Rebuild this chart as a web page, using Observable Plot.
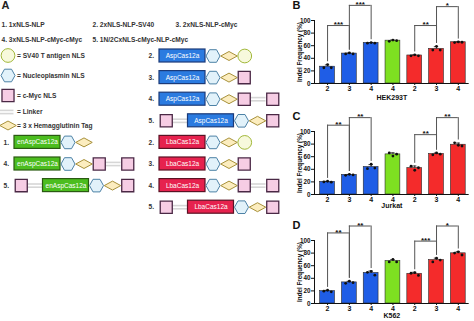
<!DOCTYPE html>
<html><head><meta charset="utf-8">
<script src="https://cdn.jsdelivr.net/npm/d3@7"></script>
<script src="https://cdn.jsdelivr.net/npm/@observablehq/plot@0.6"></script>
<style>
html,body{margin:0;padding:0;background:#fff;}
#fig{position:relative;width:474px;height:321px;overflow:hidden;font-family:"Liberation Sans",Arial,sans-serif;}
#fig > div{position:absolute;}
#pa{left:0;top:0;} #pb{left:285px;top:-4px;} #pc{left:285px;top:107px;} #pd{left:285px;top:216px;}
</style></head><body>
<div id="fig"><div id="pa"></div><div id="pb"></div><div id="pc"></div><div id="pd"></div></div>
<script>
// ---------- Panel A data ----------
const constructNames = ["1. 1xNLS-NLP", "2. 2xNLS-NLP-SV40", "3. 2xNLS-NLP-cMyc", "4. 3xNLS-NLP-cMyc-cMyc", "5. 1N/2CxNLS-cMyc-NLP-cMyc"];
const legendParts = ["sv40", "nlp", "cmyc", "linker", "ha"];
const legendLabels = ["= SV40 T antigen NLS", "= Nucleoplasmin NLS", "= c-Myc NLS", "= Linker", "= 3 x Hemagglutinin Tag"];
const design1 = ["cas", "nlp", "ha"];
const design2 = ["cas", "nlp", "ha", "sv40"];
const design3 = ["cas", "nlp", "ha", "cmyc"];
const design4 = ["cas", "nlp", "ha", "cmyc", "linker", "cmyc"];
const design5 = ["cmyc", "linker", "cas", "nlp", "ha", "cmyc"];
const enzymes = ["AspCas12a", "enAspCas12a", "LbaCas12a"];
const enAspConstructs = ["1", "4", "5"];
const aspConstructs = ["2", "3", "4", "5"];
const lbaConstructs = ["2", "3", "4", "5"];

// ---------- Panels B-D data ----------
const groupTicks = ["2", "3", "4", "4", "2", "3", "4"];
const barEnzymes = ["AspCas12a", "AspCas12a", "AspCas12a", "enAspCas12a", "LbaCas12a", "LbaCas12a", "LbaCas12a"];
const cellLines = ["HEK293T", "Jurkat", "K562"];
const panelLetters = ["B", "C", "D"];
const yTitle = "Indel Frequency (%)";
const yTicks = [0, 20, 40, 60, 80, 100];
const hekReps = [[25, 30, 25], [47, 48.5, 47], [64, 65, 64], [67, 69, 68], [44, 45.5, 44], [53, 59, 53], [65, 66, 65.5]];
const jurkatReps = [[20, 21, 19.5], [30.5, 32, 31], [41, 48, 42], [66, 61, 64], [45, 38.5, 42.5], [63, 66, 64], [82, 78, 77]];
const k562Reps = [[19.5, 21, 18.5], [32, 35.5, 33], [49.5, 51, 45], [66, 70, 66], [48, 49, 44.5], [66, 72, 69], [80, 82, 77]];
const hekSig = [[0, 1, 92, "***"], [1, 2, 124, "***"], [4, 5, 92, "**"], [5, 6, 122, "*"]];
const jurkatSig = [[0, 1, 110, "**"], [1, 2, 122, "**"], [4, 5, 95, "**"], [5, 6, 122, "**"]];
const k562Sig = [[0, 1, 112, "**"], [1, 2, 123, "**"], [4, 5, 99, "***"], [5, 6, 123, "*"]];

// ---------- styles / layout ----------
const designs = {"1": design1, "2": design2, "3": design3, "4": design4, "5": design5};
const partWidth = {cas: 46, nlp: 15, ha: 17, sv40: 14.5, cmyc: 13.5, linker: 15};
const boxFill = {AspCas12a: "#2b7be0", enAspCas12a: "#4cbd1f", LbaCas12a: "#e6224e"};
const boxStroke = {AspCas12a: "#1b3a78", enAspCas12a: "#2a5a12", LbaCas12a: "#5a1224"};
const barColors = ["#1f5de6", "#7ee021", "#f42b2b"];
const font = "'Liberation Sans', Arial, sans-serif";
const cellTitleOffset = [14, 11, 12.5];

// custom symbols
const hexSym = {draw(c, size) { const s = Math.sqrt(size / Math.PI); c.moveTo(s, 0); c.lineTo(s / 2, s * 0.9); c.lineTo(-s / 2, s * 0.9); c.lineTo(-s, 0); c.lineTo(-s / 2, -s * 0.9); c.lineTo(s / 2, -s * 0.9); c.closePath(); }};
const diaSym = {draw(c, size) { const s = Math.sqrt(size / Math.PI); c.moveTo(s * 1.18, 0); c.lineTo(0, s * 0.64); c.lineTo(-s * 1.18, 0); c.lineTo(0, -s * 0.64); c.closePath(); }};
const cirSym = {draw(c, size) { const s = Math.sqrt(size / Math.PI) * 0.98; c.moveTo(s, 0); c.arc(0, 0, s, 0, 2 * Math.PI); }};
const sqSym = {draw(c, size) { const s = Math.sqrt(size / Math.PI) * 0.86; c.rect(-s, -s * 1.02, 2 * s, 2.04 * s); }};
const shapeStyle = {
  nlp: {symbol: hexSym, fill: "#e2f2fa", stroke: "#4d82a6", strokeWidth: 1},
  ha: {symbol: diaSym, fill: "#fcedbf", stroke: "#a8913a", strokeWidth: 1},
  sv40: {symbol: cirSym, fill: "#f7f9dc", stroke: "#a2b83a", strokeWidth: 1},
  cmyc: {symbol: sqSym, fill: "#f6cde4", stroke: "#4a2845", strokeWidth: 1.3}
};

// layout for panel A
const rowY = k => 55.5 + 21.6 * k;
const nameX = [1, 92, 175, 1, 92];
const nameY = [24.3, 24.3, 24.3, 39.3, 39.3];
const legendY = [55, 75, 95, 111.5, 125];

function layoutRow(id, enzyme, x0, y, labelX) {
  let x = x0;
  const parts = designs[id].map(p => { const w = partWidth[p]; const o = {type: p, enzyme, x1: x, x2: x + w, cx: x + w / 2, y}; x += w; return o; });
  return {label: id + ".", labelX, y, parts};
}
const rows = [
  ...enAspConstructs.map((id, k) => layoutRow(id, "enAspCas12a", 14, rowY(4 + k), 3)),
  ...aspConstructs.map((id, k) => layoutRow(id, "AspCas12a", 159, rowY(k), 148)),
  ...lbaConstructs.map((id, k) => layoutRow(id, "LbaCas12a", 159, rowY(4 + k), 148))
];
const allParts = rows.flatMap(r => r.parts);
const legendItems = legendParts.map((type, i) => ({type, label: legendLabels[i], cx: 7.5, x1: 0, x2: 13.5, y: legendY[i]}));
const shapeParts = [...allParts, ...legendItems];
const names = constructNames.map((t, i) => ({t, x: nameX[i], y: nameY[i]}));

const shapeMarks = ["nlp", "ha", "sv40", "cmyc"].map(type =>
  Plot.dot(shapeParts.filter(d => d.type === type), {x: "cx", y: "y", r: 7, ...shapeStyle[type]}));
const linkers = shapeParts.filter(d => d.type === "linker");
const boxes = allParts.filter(d => d.type === "cas");

const plotA = Plot.plot({
  width: 300, height: 230, margin: 0,
  x: {domain: [0, 300], range: [0, 300], axis: null},
  y: {domain: [0, 230], range: [0, 230], axis: null},
  style: {background: "transparent", overflow: "visible", fontFamily: font},
  marks: [
    Plot.text(["A"], {frameAnchor: "top-left", dx: 1, dy: 1, textAnchor: "start", lineAnchor: "top", fontSize: 11, fontWeight: "bold", fill: "#222"}),
    Plot.text(names, {x: "x", y: "y", text: "t", textAnchor: "start", fontSize: 6.6, fontWeight: "bold", fill: "#333"}),
    Plot.text(legendItems, {x: 16.5, y: "y", text: "label", textAnchor: "start", fontSize: 6.6, fontWeight: "bold", fill: "#333"}),
    Plot.text(rows, {x: "labelX", y: "y", text: "label", textAnchor: "start", fontSize: 6.6, fontWeight: "bold", fill: "#333"}),
    Plot.ruleY(linkers, {x1: "x1", x2: "x2", y: d => d.y - 1.6, stroke: "#d6d6d6", strokeWidth: 1.6}),
    Plot.ruleY(linkers, {x1: "x1", x2: "x2", y: d => d.y + 1.6, stroke: "#d6d6d6", strokeWidth: 1.6}),
    Plot.rect(boxes, {x1: "x1", x2: "x2", y1: d => d.y - 6.5, y2: d => d.y + 6.5, fill: d => boxFill[d.enzyme], stroke: d => boxStroke[d.enzyme], strokeWidth: 1.2}),
    Plot.text(boxes, {x: "cx", y: "y", text: "enzyme", fill: "white", fontSize: 6.5, fontWeight: "normal"}),
    ...shapeMarks
  ]
});
document.getElementById("pa").append(plotA);

function barChart(reps, sig, cellLine, letter, titleOffset) {
  const bars = reps.map((r, i) => ({i, mean: d3.mean(r), sd: d3.deviation(r), max: d3.max(r), enzyme: barEnzymes[i]}));
  const pts = reps.flatMap((r, i) => r.map((v, k) => ({i, k, v})));
  const brackets = sig.map(([a, b, level, label]) => ({a, b, level, label}));
  const legs = brackets.flatMap(s => [
    {x: s.a, y1: bars[s.a].max + 4.5, y2: s.level},
    {x: s.b, y1: bars[s.b].max + 4.5, y2: s.level}
  ]);
  return Plot.plot({
    width: 189, height: 107, marginLeft: 29, marginRight: 5.3, marginTop: 24, marginBottom: 20,
    x: {domain: [-0.6, 6.5]},
    y: {domain: [0, 100]},
    color: {domain: enzymes, range: barColors},
    style: {background: "transparent", overflow: "visible", fontFamily: font, fontWeight: "bold", color: "#111"},
    marks: [
      Plot.rect(bars, {x1: d => d.i - 0.34, x2: d => d.i + 0.34, y1: 0, y2: "mean", fill: "enzyme", stroke: "#2a2a2a", strokeWidth: 0.6}),
      Plot.ruleX(bars, {x: "i", y1: "mean", y2: d => d.mean + d.sd, stroke: "#111", strokeWidth: 0.8}),
      Plot.ruleY(bars, {y: d => d.mean + d.sd, x1: d => d.i - 0.1, x2: d => d.i + 0.1, stroke: "#111", strokeWidth: 0.8}),
      Plot.dot(pts, {x: d => d.i + (d.k - 1) * 0.17, y: "v", r: 1.4, fill: "#111"}),
      Plot.ruleY(brackets, {y: "level", x1: "a", x2: "b", stroke: "#555", strokeWidth: 1}),
      Plot.ruleX(legs, {x: "x", y1: "y1", y2: "y2", stroke: "#555", strokeWidth: 1}),
      Plot.text(brackets, {x: d => (d.a + d.b) / 2, y: "level", text: "label", dy: -1, fontSize: 8, fill: "#111"}),
      Plot.ruleY([0], {stroke: "#111", strokeWidth: 1}),
      Plot.ruleX([-0.6], {y1: 0, y2: 100, stroke: "#111", strokeWidth: 1}),
      Plot.axisY({ticks: yTicks, tickSize: 3, tickPadding: 1, fontSize: 6.3, label: null, stroke: "#111"}),
      Plot.axisX({ticks: d3.range(7), tickFormat: i => groupTicks[i], tickSize: 2, tickPadding: 0.5, fontSize: 7, label: null, stroke: "#111"}),
      Plot.text([yTitle], {frameAnchor: "left", rotate: -90, dx: -15, textAnchor: "middle", lineAnchor: "middle", fontSize: 6.3, fill: "#111"}),
      Plot.text([cellLine], {frameAnchor: "bottom", dy: titleOffset, textAnchor: "middle", lineAnchor: "middle", fontSize: 7, fill: "#111"}),
      Plot.text([letter], {frameAnchor: "top-left", dx: -22, dy: -19, textAnchor: "start", lineAnchor: "top", fontSize: 11, fill: "#111"})
    ]
  });
}
document.getElementById("pb").append(barChart(hekReps, hekSig, cellLines[0], panelLetters[0], cellTitleOffset[0]));
document.getElementById("pc").append(barChart(jurkatReps, jurkatSig, cellLines[1], panelLetters[1], cellTitleOffset[1]));
document.getElementById("pd").append(barChart(k562Reps, k562Sig, cellLines[2], panelLetters[2], cellTitleOffset[2]));
</script></body></html>
